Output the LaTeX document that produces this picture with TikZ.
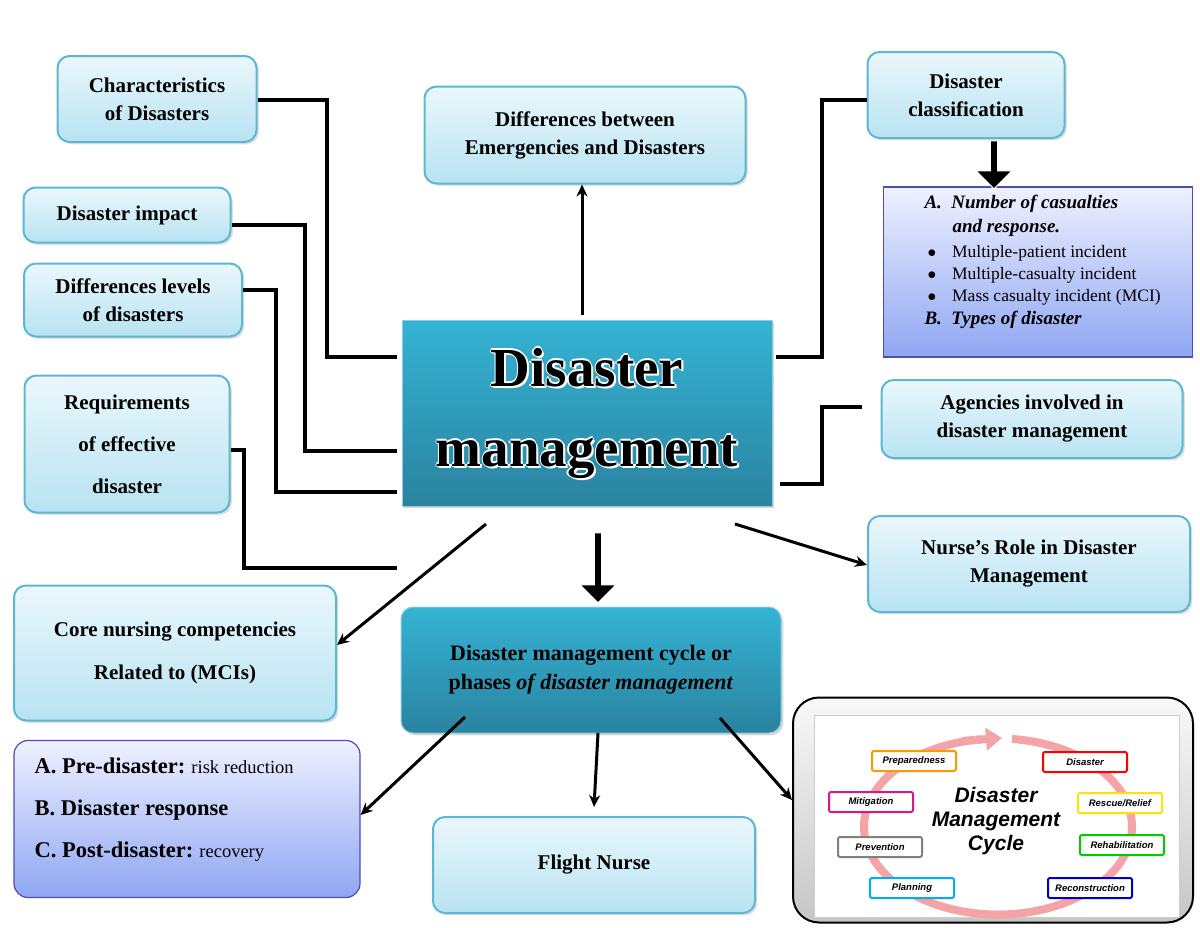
\documentclass[tikz,border=0pt]{standalone}
\usepackage{fontspec}
\setmainfont{Liberation Serif}
\newfontfamily\cyclefont{Liberation Sans}
\usetikzlibrary{positioning,shadows,arrows.meta,shapes.arrows}
\definecolor{boxline}{HTML}{5DB7D3}
\definecolor{boxtop}{HTML}{EAF7FC}
\definecolor{boxbot}{HTML}{B8E3F2}
\definecolor{tealtop}{HTML}{35B3D4}
\definecolor{tealbot}{HTML}{2A83A0}
\definecolor{bluetop}{HTML}{EEF1FF}
\definecolor{bluebot}{HTML}{8FA6F2}
\definecolor{ringpink}{HTML}{F4A3A6}

\begin{document}
\begin{tikzpicture}[x=1pt,y=-1pt,
	topic/.style={draw=boxline,line width=2pt,rounded corners=12pt,top color=boxtop,bottom color=boxbot,
		align=center,font=\bfseries\fontsize{21}{28}\selectfont,drop shadow={opacity=0.25}},
	teal_box/.style={draw=boxline!70,line width=1pt,top color=tealtop,bottom color=tealbot,drop shadow={opacity=0.3}},
	blue_box/.style={draw=blue!40!gray,line width=1.2pt,top color=bluetop,bottom color=bluebot},
	link/.style={line width=3.5pt},
	pointer/.style={line width=3pt,-{Stealth[length=12pt,width=11pt]}},
	fat_arrow/.style={single arrow,draw=white,fill=black,line width=1pt,shape border rotate=270,
		minimum width=36pt,single arrow head extend=2pt,inner sep=0pt},
	stage/.style={draw=#1,line width=2pt,rounded corners=2pt,fill=white,minimum width=84pt,minimum height=20pt,
		font=\cyclefont\bfseries\itshape\fontsize{9.5}{10}\selectfont}]
	\useasboundingbox (0,0) rectangle (1200,927);

	% boxes round the main topic
	\node[topic,minimum width=199pt,minimum height=86pt] (chars) at (157,99) {Characteristics\\of Disasters};
	\node[topic,minimum width=321pt,minimum height=97pt] (diffs) at (585,135) {Differences between\\Emergencies and Disasters};
	\node[topic,minimum width=197pt,minimum height=86pt] (classes) at (966,95) {Disaster\\classification};
	\node[topic,minimum width=207pt,minimum height=55pt] (impact) at (127,215) {Disaster impact};
	\node[topic,minimum width=218pt,minimum height=73pt] (levels) at (133,300) {Differences levels\\of disasters};
	\node[topic,minimum width=205pt,minimum height=137pt,font=\bfseries\fontsize{21}{42}\selectfont] (needs) at (127,444) {Requirements\\of effective\\disaster};
	\node[topic,minimum width=301pt,minimum height=78pt] (agencies) at (1032,419) {Agencies involved in\\disaster management};
	\node[topic,minimum width=322pt,minimum height=96pt] (nurse) at (1029,564) {Nurse's Role in Disaster\\Management};
	\node[topic,minimum width=322pt,minimum height=135pt,font=\bfseries\fontsize{21}{43}\selectfont] (core) at (175,653) {Core nursing competencies\\Related to (MCIs)};
	\node[topic,minimum width=322pt,minimum height=96pt] (flight) at (594,865) {Flight Nurse};

	% types of disaster
	\node[blue_box,minimum width=309pt,minimum height=170pt] (types) at (1038,272) {};
	\node[anchor=north west,align=left,font=\bfseries\itshape\fontsize{19}{24}\selectfont] at (921,192)
		{A.\ \ Number of casualties\\\hspace*{28pt}and response.};
	\node[anchor=north west,align=left,font=\fontsize{17.5}{22}\selectfont] at (924,242)
		{$\bullet$\hspace{16pt}Multiple-patient incident\\$\bullet$\hspace{16pt}Multiple-casualty incident\\$\bullet$\hspace{16pt}Mass casualty incident (MCI)};
	\node[anchor=north west,font=\bfseries\itshape\fontsize{19}{24}\selectfont] at (921,308) {B.\ \ Types of disaster};

	% main topic
	\node[teal_box,minimum width=370pt,minimum height=186pt] (main) at (587,413) {};
	\foreach \dx/\dy in {-1.5/0,1.5/0,0/-1.5,0/1.5,2/2}
		\node[white,align=center,font=\bfseries\fontsize{55}{80}\selectfont] at ([shift={(\dx,\dy)}]main) {Disaster\\management};
	\node[align=center,font=\bfseries\fontsize{55}{80}\selectfont] at (main) {Disaster\\management};

	% cycle box and phases
	\node[teal_box,rounded corners=12pt,minimum width=380pt,minimum height=126pt,align=center,
		font=\bfseries\fontsize{22}{29}\selectfont] (cycle) at (591,670) {Disaster management cycle or\\phases \textit{of disaster management}};
	\node[blue_box,rounded corners=14pt,minimum width=346pt,minimum height=157pt] (phases) at (187,819) {};
	\node[anchor=north west,align=left,font=\fontsize{18.5}{42}\selectfont] at (31,754)
		{\textbf{\fontsize{22.5}{42}\selectfont A. Pre-disaster:} risk reduction\\\textbf{\fontsize{22.5}{42}\selectfont B. Disaster response}\\\textbf{\fontsize{22.5}{42}\selectfont C. Post-disaster:} recovery};

	% picture of the cycle
	\node[draw,line width=2pt,rounded corners=26pt,top color=gray!5,bottom color=gray!45,
		minimum width=400pt,minimum height=225pt] (frame) at (993,810) {};
	\node[fill=white,draw=gray!40,minimum width=365pt,minimum height=202pt] (photo) at (997,816) {};
	\draw[ringpink,line width=8pt] (1012,739) arc[start angle=84,end angle=-263,x radius=134pt,y radius=88pt];
	\draw[ringpink,line width=8pt,-{Triangle[length=16pt,width=22pt]}] (962,741) -- (1002,738);
	\node[align=center,font=\cyclefont\bfseries\itshape\fontsize{21}{24}\selectfont] (title) at (996,821) {Disaster\\Management\\Cycle};
	\node[stage=orange!80!yellow] (prep) at (914,761) {Preparedness};
	\node[stage=red] (dis) at (1085,762) {Disaster};
	\node[stage=magenta!80!violet] (miti) at (871,802) {Mitigation};
	\node[stage=yellow!85!orange] (rescue) at (1120,803) {Rescue/Relief};
	\node[stage=gray] (prev) at (880,847) {Prevention};
	\node[stage=green!80!black] (rehab) at (1122,845) {Rehabilitation};
	\node[stage=cyan] (plan) at (912,888) {Planning};
	\node[stage=blue!80!black] (recon) at (1090,888) {Reconstruction};

	% links into the main topic
	\coordinate (in1) at (397,357);
	\coordinate (in2) at (397,451);
	\coordinate (in3) at (397,492);
	\coordinate (in4) at (397,568);
	\coordinate (in5) at (776,357);
	\coordinate (in6) at (780,484);
	\draw[link] (chars.east|-0,100) -- (327,100) |- (in1);
	\draw[link] (impact.east|-0,225) -- (305,225) |- (in2);
	\draw[link] (levels.east|-0,290) -- (276,290) |- (in3);
	\draw[link] (needs.east|-0,450) -- (244,450) |- (in4);
	\draw[link] (classes.west|-0,100) -- (822,100) |- (in5);
	\draw[link] (862,407) -- (822,407) |- (in6);

	% arrows out of the main topic
	\draw[pointer] (main.north-|582,0) ++(0,-5) -- (diffs.south-|582,0);
	\draw[pointer] (486,524) -- (core.east|-0,645);
	\draw[pointer] (735,524) -- (nurse.west|-0,565);
	\draw[pointer] (465,717) -- (phases.east|-0,815);
	\draw[pointer] (598,733) -- (594,807);
	\draw[pointer] (720,718) -- (frame.west|-0,800);
	\node[fat_arrow,minimum height=70pt] at (598,566) {};
	\node[fat_arrow,minimum height=48pt] at (994,163) {};
\end{tikzpicture}
\end{document}
